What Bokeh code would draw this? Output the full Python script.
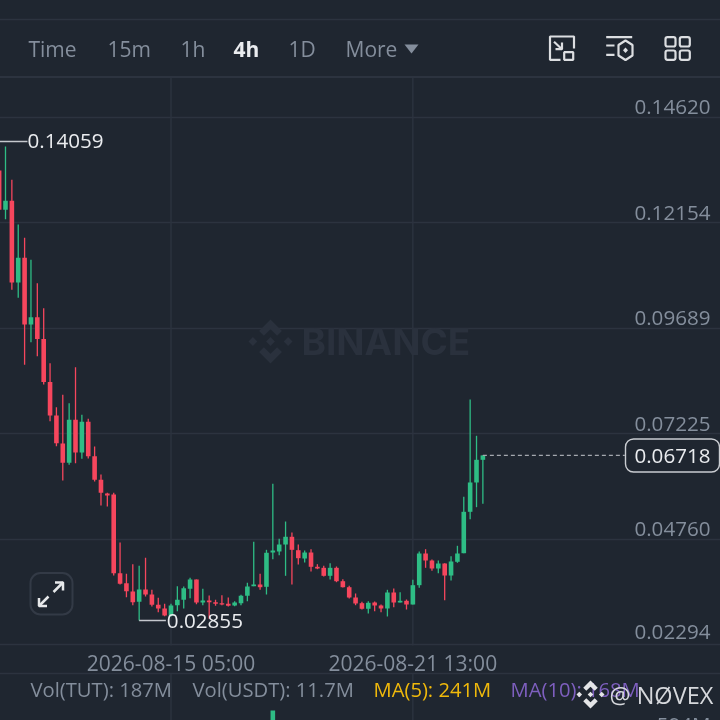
from bokeh.core.properties import value
from bokeh.embed import file_html
from bokeh.models import FixedTicker, Grid, LinearAxis, NumeralTickFormatter, Range1d
from bokeh.plotting import figure
from bokeh.resources import INLINE

# ---- chart data -----------------------------------------------------------
candle_index = list(range(-1, 76))
opens = [.13380, .12461, .12672, .10761, .11339, .09779, .09949, .09439, .08434, .07650,
         .06996, .06544, .07550, .06785, .07503, .06699, .06147, .05826, .05803, .03962,
         .03728, .03534, .03293, .03581, .03464, .03223, .03137, .02973, .03214, .03340,
         .03597, .03815, .03277, .03324, .03284, .03261, .03247, .03207, .03261, .03434,
         .03658, .03698, .03644, .04446, .04470, .04633, .04814, .04500, .04306, .04446,
         .04112, .04088, .03901, .04088, .03775, .03635, .03394, .03261, .03130, .03277,
         .03207, .03137, .03511, .03277, .03317, .03230, .03682, .04423, .04259, .04072,
         .04189, .03908, .04229, .04430, .05398, .06084, .06614]
highs = [.13380, .13942, .13163, .12117, .11806, .11292, .10744, .10160, .08874, .07845,
         .08135, .07938, .08780, .07667, .07573, .06925, .06271, .05843, .05843, .04680,
         .03948, .04173, .04135, .04322, .03574, .03387, .03247, .03247, .03658, .03651,
         .03855, .03815, .03597, .03441, .03340, .03448, .03394, .03307, .03457, .03738,
         .04697, .03948, .04509, .06053, .04767, .05171, .04914, .04633, .04493, .04524,
         .04173, .04135, .04196, .04119, .03822, .03668, .03488, .03293, .03307, .03300,
         .03230, .03574, .03604, .03518, .03347, .03808, .04470, .04524, .04283, .04259,
         .04196, .04360, .04603, .05749, .08025, .07176, .06718]
lows = [.12461, .12241, .10590, .10403, .08836, .09365, .09037, .08375, .07517, .06932,
        .06130, .06497, .06535, .06638, .06645, .06107, .05546, .05522, .03908, .03698,
        .03401, .03214, .02855, .03417, .03184, .03050, .02957, .02950, .03074, .03137,
        .03378, .03237, .03214, .02896, .03200, .03214, .03184, .03191, .03214, .03307,
        .03658, .03574, .03464, .04290, .04383, .03901, .03698, .04166, .04212, .04002,
        .04056, .03885, .03815, .03752, .03628, .03371, .03214, .03113, .03020, .03074,
        .03050, .02950, .03167, .03277, .03113, .03230, .03621, .04088, .04018, .03962,
        .03331, .03792, .04205, .04430, .05225, .05506, .05585]
closes = [.12461, .12672, .10761, .11339, .09779, .09949, .09439, .08434, .07650, .07003,
          .06544, .07550, .06785, .07503, .06699, .06147, .05843, .05779, .03962, .03714,
          .03541, .03284, .03581, .03464, .03223, .03137, .02973, .03207, .03340, .03611,
          .03815, .03277, .03324, .03284, .03247, .03230, .03200, .03277, .03434, .03651,
          .03698, .03635, .04440, .04493, .04633, .04814, .04509, .04313, .04446, .04112,
          .04072, .03901, .04088, .03775, .03635, .03394, .03254, .03130, .03270, .03207,
          .03137, .03511, .03277, .03317, .03230, .03682, .04423, .04259, .04072, .04189,
          .03908, .04236, .04423, .05398, .06084, .06614, .06718]
price_ticks = [0.14620, 0.12154, 0.09689, 0.07225, 0.04760]
bottom_price_tick = [0.02294]
time_ticks = {26: "2026-08-15 05:00", 64: "2026-08-21 13:00"}
highest_price, lowest_price, lowest_index, last_price = 0.14059, 0.02855, 21, 0.06718
last_index = 75
tabs = ["Time", "15m", "1h", "4h", "1D", "More"]
legend_texts = ["Vol(TUT): 187M", "Vol(USDT): 11.7M", "MA(5): 241M", "MA(10): 168M"]
volume_spike_index = 42

# ---- style and layout ------------------------------------------------------
BG, GRID, GREY, WHITE = "#1f2630", "#2c333f", "#848e9c", "#eaecef"
GREEN, RED, ICON = "#2ebd85", "#f6465d", "#dcdee1"
FONT_NAME = "Open Sans"
FONT = value(FONT_NAME)
TICK_SIZE = "20.6px"
PX = 6.365          # pixels per candle
PRICE_PER_PX = 0.00023387
TOP_PRICE = 0.17356  # price at the top edge of the window
X0, X1 = -7 / PX, 715 / PX
Y0, Y1 = TOP_PRICE - 720 * PRICE_PER_PX, TOP_PRICE + 2 * PRICE_PER_PX


def price_at(py):
    return TOP_PRICE - py * PRICE_PER_PX


p = figure(width=722, height=722, output_backend="svg", toolbar_location=None,
           x_range=Range1d(X0, X1), y_range=Range1d(Y0, Y1),
           x_axis_type=None, y_axis_type=None, min_border=0,
           background_fill_color=BG, border_fill_color=BG, outline_line_color=None)
p.styles = {"position": "fixed", "left": "-2px", "top": "-2px"}
p.extra_x_ranges["px"] = Range1d(-2, 720)
p.extra_y_ranges["py"] = Range1d(720, -2)
p.extra_y_ranges["labels"] = Range1d(Y0 - 10 * PRICE_PER_PX, Y1 - 10 * PRICE_PER_PX)
p.extra_y_ranges["labels_low"] = Range1d(Y0 - 13 * PRICE_PER_PX, Y1 - 13 * PRICE_PER_PX)
PXK = dict(x_range_name="px", y_range_name="py")

# grid
all_prices = price_ticks + bottom_price_tick
p.add_layout(Grid(dimension=1, ticker=FixedTicker(ticks=all_prices),
                  grid_line_color=GRID, grid_line_width=1.4))
time_x = list(time_ticks)
for top, bottom in [(77, 645), (673, 720)]:
    p.segment(x0=time_x, x1=time_x, y0=[top] * 2, y1=[bottom] * 2,
              y_range_name="py", line_color=GRID, line_width=1.4)
p.segment(x0=[-2, -2, -2], x1=[720, 720, 720], y0=[19, 76.5, 673], y1=[19, 76.5, 673],
          line_color=GRID, line_width=[1.4, 2, 1.4], **PXK)


def logo(cx, cy, r, color):
    pieces = [
        [(0, .2), (.2, 0), (0, -.2), (-.2, 0)],
        [(-.8, .2), (-.6, 0), (-.8, -.2), (-1, 0)],
        [(.8, .2), (1, 0), (.8, -.2), (.6, 0)],
        [(0, 1), (.52, .48), (.3, .26), (0, .56), (-.3, .26), (-.52, .48)],
        [(0, -1), (.52, -.48), (.3, -.26), (0, -.56), (-.3, -.26), (-.52, -.48)],
    ]
    p.patches(xs=[[cx + a * r for a, _ in s] for s in pieces],
              ys=[[cy - b * r for _, b in s] for s in pieces],
              fill_color=color, line_color=None, **PXK)


# watermark
logo(270, 341, 22, "#2a313d")
p.text(x=[301], y=[341], text=["BINANCE"], text_font=value("Inter"), text_font_style="bold",
       text_font_size="37px", text_color="#2a313d", text_baseline="middle", **PXK)

# candles
colors = [GREEN if c >= o else RED for o, c in zip(opens, closes)]
p.segment(x0=candle_index, x1=candle_index, y0=lows, y1=highs, line_color=colors, line_width=1.3)
p.vbar(x=candle_index, width=4.6 / PX, bottom=[min(a, b) for a, b in zip(opens, closes)],
       top=[max(a, b) for a, b in zip(opens, closes)], fill_color=colors, line_color=None)

# extreme price leaders
p.line(x=[X0, 3.45], y=[highest_price, highest_price], line_color="#c5c8cd", line_width=1.4)
p.line(x=[lowest_index, lowest_index, 25.2], y=[lows[lowest_index + 1], lowest_price, lowest_price],
       line_color="#c5c8cd", line_width=1.4)
p.text(x=[3.45, 25.35], y=[highest_price, lowest_price],
       text=[f"{highest_price:.5f}", f"{lowest_price:.5f}"], text_font=FONT,
       text_font_size=TICK_SIZE, text_color=WHITE, text_baseline="middle")

# axes
AXK = dict(axis_line_color=None, major_tick_line_color=None, minor_tick_line_color=None,
           major_tick_in=0, major_tick_out=0, minor_tick_in=0, minor_tick_out=0,
           major_label_text_color=GREY, major_label_text_font=FONT_NAME)
y_axis = LinearAxis(y_range_name="labels", ticker=FixedTicker(ticks=price_ticks),
                    formatter=NumeralTickFormatter(format="0.00000"), fixed_location=705 / PX,
                    major_label_standoff=0, major_label_text_font_size=TICK_SIZE, **AXK)
p.add_layout(y_axis, "left")
y_axis_low = LinearAxis(y_range_name="labels_low", ticker=FixedTicker(ticks=bottom_price_tick),
                        formatter=NumeralTickFormatter(format="0.00000"), fixed_location=705 / PX,
                        major_label_standoff=0, major_label_text_font_size=TICK_SIZE, **AXK)
p.add_layout(y_axis_low, "left")
x_axis = LinearAxis(ticker=FixedTicker(ticks=time_x), major_label_overrides=time_ticks,
                    fixed_location=price_at(646), major_label_standoff=2,
                    major_label_text_font_size="21px", **AXK)
p.add_layout(x_axis, "below")

# last price marker
p.line(x=[last_index, 97.3], y=[last_price, last_price], line_color="#a4a8ae",
       line_width=1.4, line_dash="4 3")
p.quad(left=[625], right=[719], top=[438.5], bottom=[471.5], fill_color=BG,
       line_color="#c9ccd1", line_width=1.4, border_radius=8, **PXK)
p.text(x=[710], y=[455.5], text=[f"{last_price:.5f}"], text_font=FONT, text_font_size=TICK_SIZE,
       text_color=WHITE, text_align="right", text_baseline="middle", **PXK)

# tab row
tab_x = [28, 107, 180, 233, 288, 345]
for name, x in zip(tabs, tab_x):
    active = name == "4h"
    p.text(x=[x], y=[48], text=[name], text_font=FONT, text_font_size="21px",
           text_color=WHITE if active else GREY, text_font_style="bold" if active else "normal",
           text_baseline="middle", **PXK)
p.patch(x=[404, 418, 411], y=[44, 44, 53], fill_color=GREY, line_color=None, **PXK)

# toolbar icons
ICK = dict(line_color=ICON, line_width=2.2, **PXK)
p.line(x=[560, 549.5, 549.5, 573.5, 573.5], y=[59.3, 59.3, 36, 36, 48], **ICK)
p.quad(left=[563.7], right=[572.7], top=[51.7], bottom=[59.3], fill_color=None, **ICK)
p.line(x=[553.5, 561.5], y=[41.2, 48.7], **ICK)
p.line(x=[555, 561.5, 561.5], y=[48.7, 48.7, 42], **ICK)
p.segment(x0=[605.7, 605.7, 605.7], x1=[631.7, 614, 614], y0=[36.7, 45, 54.3], y1=[36.7, 45, 54.3], **ICK)
p.patch(x=[625, 632, 632, 625, 618, 618], y=[40, 44.5, 55, 59.5, 55, 44.5], fill_color=None, **ICK)
p.patch(x=[625, 627.5, 625, 622.5], y=[47, 49.7, 52.4, 49.7], fill_color=ICON, line_color=None, **PXK)
p.quad(left=[665, 679.3, 665, 679.3], right=[675, 689.3, 675, 689.3],
       top=[36.7, 36.7, 50, 50], bottom=[46, 46, 59.3, 59.3], fill_color=None, border_radius=2, **ICK)

# expand button
p.quad(left=[30], right=[72], top=[572.5], bottom=[614], fill_color=BG, line_color="#333a46",
       line_width=2, border_radius=10, **PXK)
ARK = dict(line_color="#e6e8ea", line_width=2.5, **PXK)
p.line(x=[38.5, 48], y=[605.5, 596], **ARK)
p.line(x=[53, 62.5], y=[591.5, 582], **ARK)
p.line(x=[38.5, 38.5, 46.5], y=[597.5, 605.5, 605.5], **ARK)
p.line(x=[54.5, 62.5, 62.5], y=[582, 582, 590], **ARK)

# volume legend row
legend_x = [30, 192, 373, 510]
legend_colors = [GREY, GREY, "#f0b90b", "#7e5fbf"]
for txt, x, c in zip(legend_texts, legend_x, legend_colors):
    p.text(x=[x], y=[688.5], text=[txt], text_font=FONT, text_font_size="20.2px", text_color=c,
           text_baseline="middle", **PXK)
p.vbar(x=[volume_spike_index], width=4.6 / PX, bottom=[720], top=[710], fill_color=GREEN,
       line_color=None, y_range_name="py")
p.text(x=[710], y=[723], text=["594M"], text_font=FONT, text_font_size=TICK_SIZE, text_color=GREY,
       text_align="right", text_baseline="middle", **PXK)

# corner mark
logo(590, 694, 14, "#e4e5e7")
p.text(x=[609], y=[694], text=["@ NØVEX"], text_font=FONT, text_font_size="23.5px",
       text_color="#d6d8dc", text_baseline="middle", **PXK)

open("out.html", "w").write(file_html(p, INLINE))
